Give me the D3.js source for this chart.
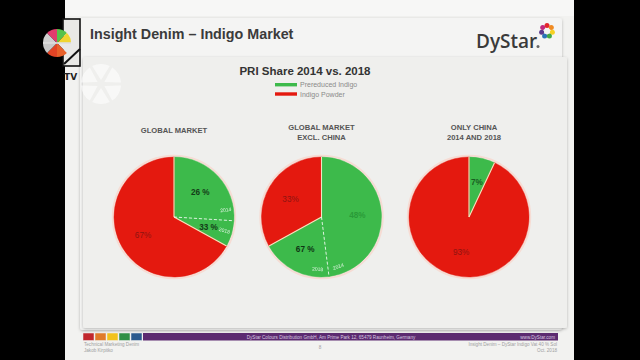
<!DOCTYPE html>
<html><head><meta charset="utf-8">
<script src="https://cdn.jsdelivr.net/npm/d3@7/dist/d3.min.js"></script>
<style>html,body{margin:0;padding:0;background:#000}svg{display:block}</style>
</head><body>
<script>
// ---- data ----
const categories = ["GLOBAL MARKET", "GLOBAL MARKET EXCL. CHINA", "ONLY CHINA 2014 AND 2018"];
const categoryLines = [["GLOBAL MARKET"], ["GLOBAL MARKET", "EXCL. CHINA"], ["ONLY CHINA", "2014 AND 2018"]];
const prereduced2014 = [26, 48, 7];
const prereduced2018 = [33, 67, 7];
const indigoPowder = [67, 33, 93];
const labels2014 = ["26 %", "48%", "7%"];
const labels2018 = ["33 %", "67 %", ""];
const labelsPowder = ["67%", "33%", "93%"];
const yearLabels = ["2014", "2018"];
const seriesNames = ["Prereduced Indigo", "Indigo Powder"];

const W = 640, H = 360;
const svg = d3.select("body").append("svg").attr("width", W).attr("height", H);
const defs = svg.append("defs");
const f = defs.append("filter").attr("id", "sh").attr("x", "-5%").attr("y", "-5%").attr("width", "110%").attr("height", "115%");
f.append("feDropShadow").attr("dx", 0).attr("dy", 1).attr("stdDeviation", 1.6).attr("flood-color", "#000").attr("flood-opacity", 0.25);

// slide background
svg.append("rect").attr("width", W).attr("height", H).attr("fill", "#000");
svg.append("rect").attr("x", 65).attr("y", 0).attr("width", 509).attr("height", H).attr("fill", "#f2f2f0");
svg.append("rect").attr("x", 65).attr("y", 0).attr("width", 509).attr("height", 16).attr("fill", "#f7f7f6");
// header + content panels
svg.append("rect").attr("x", 80).attr("y", 18).attr("width", 482).attr("height", 312).attr("rx", 3)
  .attr("fill", "#f4f4f3").attr("filter", "url(#sh)");
svg.append("rect").attr("x", 83).attr("y", 57).attr("width", 484).attr("height", 271).attr("rx", 2)
  .attr("fill", "#efefed").attr("filter", "url(#sh)");

// faint watermark
const wm = svg.append("g").attr("transform", "translate(101,84)").attr("fill", "#fff").attr("opacity", 0.6);
for (let i = 0; i < 6; i++) {
  const a0 = (i * 60 + 4) * Math.PI / 180, a1 = (i * 60 + 56) * Math.PI / 180;
  wm.append("path").attr("d", `M${4*Math.cos((a0+a1)/2)},${4*Math.sin((a0+a1)/2)} L${20*Math.cos(a0)},${20*Math.sin(a0)} A20,20 0 0 1 ${20*Math.cos(a1)},${20*Math.sin(a1)} Z`);
}

// title
svg.append("text").attr("x", 90).attr("y", 39).attr("font-family", "Liberation Sans, Arial, sans-serif")
  .attr("font-weight", "bold").attr("font-size", 14.3).attr("fill", "#3b3b3b").text("Insight Denim – Indigo Market");

// DyStar logo
svg.append("text").attr("x", 476).attr("y", 48).attr("font-family", "Open Sans, sans-serif")
  .attr("font-weight", 600).attr("font-size", 19).attr("fill", "#3a3a3a").text("DyStar");
svg.append("circle").attr("cx", 538).attr("cy", 46.5).attr("r", 1.5).attr("fill", "#666");
const petalColors = ["#e3262a", "#f08a22", "#f6d021", "#43a844", "#2a74b8", "#5b3a8e", "#c0287b"];
const fl = svg.append("g").attr("transform", "translate(547,31)");
petalColors.forEach((c, i) => {
  const a = (i / petalColors.length) * 2 * Math.PI - Math.PI / 2;
  fl.append("circle").attr("cx", 5.5 * Math.cos(a)).attr("cy", 5.5 * Math.sin(a)).attr("r", 2.5).attr("fill", c);
});
fl.append("circle").attr("r", 3).attr("fill", "#f4f4f3");

// TV logo overlay
svg.append("rect").attr("x", 32).attr("y", 18).attr("width", 33).attr("height", 60).attr("fill", "#000");
svg.append("rect").attr("x", 63).attr("y", 19).attr("width", 17).attr("height", 47).attr("fill", "#e9e9e6").attr("stroke", "#111").attr("stroke-width", 1.6);
svg.append("line").attr("x1", 64).attr("y1", 64).attr("x2", 80).attr("y2", 49).attr("stroke", "#111").attr("stroke-width", 2);
const tv = svg.append("g").attr("transform", "translate(57,43)");
const tvCols = ["#57c24a", "#f0d530", "#e8e8e8", "#e8612a", "#e34425", "#c9c9c9", "#d0d0d0", "#e23b6d"];
const tvArc = d3.arc().innerRadius(0).outerRadius(14);
d3.pie().value(1).sort(null)(tvCols).forEach((d, i) => tv.append("path").attr("d", tvArc(d)).attr("fill", tvCols[i]));
tv.append("rect").attr("x", -14).attr("y", -1).attr("width", 28).attr("height", 2).attr("fill", "#ddd").attr("opacity", 0.8);
svg.append("text").attr("x", 64).attr("y", 80).attr("font-family", "DejaVu Sans, sans-serif").attr("font-weight", "bold")
  .attr("font-size", 9).attr("fill", "#222").text("TV");

// chart title & legend
const GREEN = "#3dba4b", RED = "#e4190f";
svg.append("text").attr("x", 305).attr("y", 75).attr("text-anchor", "middle").attr("font-family", "Liberation Sans, Arial, sans-serif")
  .attr("font-weight", "bold").attr("font-size", 11.5).attr("fill", "#333").text("PRI Share 2014 vs. 2018");
const legColor = d3.scaleOrdinal().domain(seriesNames).range([GREEN, RED]);
const leg = svg.append("g").selectAll("g").data(seriesNames).join("g")
  .attr("transform", (d, i) => `translate(275,${83 + i * 9.3})`);
leg.append("rect").attr("width", 22).attr("height", 3.4).attr("fill", d => legColor(d));
leg.append("text").attr("x", 25).attr("y", 4.2).attr("font-family", "Liberation Sans, Arial, sans-serif")
  .attr("font-size", 7).attr("fill", "#8a8a8a").text(d => d);

// pies
const x = d3.scalePoint().domain(categories).range([174, 469]);
const cy = 217, R = 60;
const ang = d3.scaleLinear().domain([0, 100]).range([0, 2 * Math.PI]);
const arc = d3.arc().innerRadius(0).outerRadius(R);
const labelStyles = {
  A: ["#143d18", "#2a9a38", "#1a5d22"],
  B: ["#143d18", "#0f3514", "#0f3514"],
  R: ["#8e1410", "#8e1410", "#8e1410"]
};

categories.forEach((cat, i) => {
  const g = svg.append("g").attr("transform", `translate(${x(cat)},${cy})`);
  const tl = categoryLines[i];
  tl.forEach((line, j) => {
    svg.append("text").attr("x", x(cat) + (i === 2 ? 5 : 0)).attr("y", (tl.length === 1 ? 133 : 130) + j * 10)
      .attr("text-anchor", "middle").attr("font-family", "Liberation Sans, Arial, sans-serif")
      .attr("font-weight", "bold").attr("font-size", 7.6).attr("fill", "#555").text(line);
  });
  const segs = [
    { key: "A", v: prereduced2014[i], label: labels2014[i], fill: GREEN },
    { key: "B", v: prereduced2018[i] - prereduced2014[i], label: labels2018[i], fill: GREEN },
    { key: "R", v: indigoPowder[i], label: labelsPowder[i], fill: RED }
  ].filter(d => d.v > 0);
  const pie = d3.pie().sort(null).value(d => d.v).startAngle(0).endAngle(2 * Math.PI);
  const arcs = pie(segs);
  g.append("circle").attr("r", R + 1.2).attr("fill", "none").attr("stroke", "#f6dcd4").attr("stroke-width", 2);
  g.selectAll("path.s").data(arcs).join("path").attr("class", "s").attr("d", arc)
    .attr("fill", d => d.data.fill).attr("stroke", d => d.data.fill).attr("stroke-width", 0.5);
  const greenTotal = prereduced2018[i];
  [0, greenTotal].forEach(v => {
    const a = ang(v);
    g.append("line").attr("x1", 0).attr("y1", 0).attr("x2", R * Math.sin(a)).attr("y2", -R * Math.cos(a))
      .attr("stroke", "#f3e6bf").attr("stroke-width", 1.1);
  });
  if (prereduced2018[i] > prereduced2014[i]) {
    const a = ang(prereduced2014[i]);
    g.append("line").attr("x1", 0).attr("y1", 0).attr("x2", R * Math.sin(a)).attr("y2", -R * Math.cos(a))
      .attr("stroke", "#fff").attr("stroke-width", 0.9).attr("stroke-dasharray", "3,2").attr("opacity", 0.9);
    [-1, 1].forEach((s, k) => {
      const aa = a + s * 0.2;
      const deg = aa * 180 / Math.PI;
      const rot = deg < 120 ? deg - 90 : deg - 180;
      g.append("text").attr("transform", `translate(${0.87 * R * Math.sin(aa)},${-0.87 * R * Math.cos(aa)}) rotate(${rot})`)
        .attr("text-anchor", "middle").attr("dy", "0.35em").attr("font-family", "Liberation Sans, Arial, sans-serif")
        .attr("font-size", 5).attr("fill", "#fff").attr("opacity", 0.85).text(yearLabels[k]);
    });
  }
  const la = d3.arc().innerRadius(R * 0.6).outerRadius(R * 0.6);
  g.selectAll("text.v").data(arcs.filter(d => d.data.label)).join("text").attr("class", "v")
    .attr("transform", d => `translate(${la.centroid(d)})`).attr("text-anchor", "middle").attr("dy", "0.35em")
    .attr("font-family", "Liberation Sans, Arial, sans-serif").attr("font-size", 8.2)
    .attr("font-weight", d => d.data.key === "R" ? "normal" : "bold")
    .attr("fill", d => labelStyles[d.data.key][i]).text(d => d.data.label);
});

// footer
const footCols = ["#c1272d", "#e07b2a", "#f2c21d", "#2f8f45", "#2b5a8e"];
footCols.forEach((c, i) => svg.append("rect").attr("x", 83 + i * 12).attr("y", 333).attr("width", 11).attr("height", 7.5)
  .attr("fill", c).attr("stroke", "#eee").attr("stroke-width", 0.5));
svg.append("rect").attr("x", 143).attr("y", 333).attr("width", 415).attr("height", 7.5).attr("fill", "#5c2b70");
const ft = (xx, yy, t, anchor, col, fs) => svg.append("text").attr("x", xx).attr("y", yy).attr("text-anchor", anchor)
  .attr("font-family", "Liberation Sans, Arial, sans-serif").attr("font-size", fs).attr("fill", col).text(t);
ft(331, 338.6, "DyStar Colours Distribution GmbH, Am Prime Park 12, 65479 Raunheim, Germany", "middle", "#d9c9e0", 4.6);
ft(555, 338.6, "www.DyStar.com", "end", "#d9c9e0", 4.6);
ft(84, 346, "Technical Marketing Denim", "start", "#a0a0a0", 4.6);
ft(84, 351.5, "Jakob Kirpitko", "start", "#a0a0a0", 4.6);
ft(320, 349, "8", "middle", "#a0a0a0", 4.6);
ft(557, 346, "Insight Denim – DyStar Indigo Vat 40 % Sol", "end", "#a0a0a0", 4.6);
ft(557, 351.5, "Oct. 2018", "end", "#a0a0a0", 4.6);
</script>
</body></html>
